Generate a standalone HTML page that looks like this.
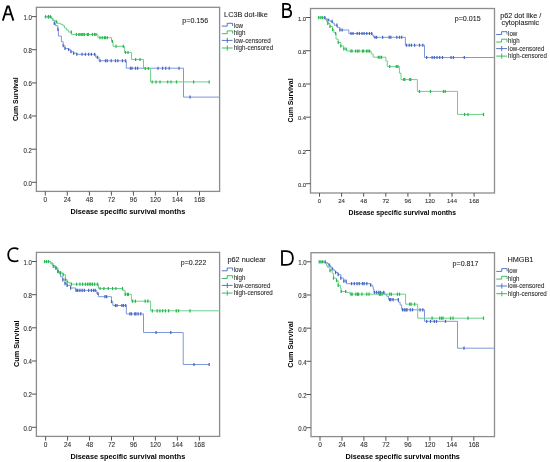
<!DOCTYPE html>
<html><head><meta charset="utf-8"><style>
html,body{margin:0;padding:0;background:#fff;}
body{width:550px;height:462px;overflow:hidden;}
svg{display:block;filter:blur(0.3px);}
text{font-family:"Liberation Sans",sans-serif;}
.tk{font-size:6.8px;fill:#333;stroke:#333;stroke-width:0.1px;}
.at{font-size:7.25px;font-weight:bold;fill:#000;}
.pv{font-size:7px;fill:#1a1a1a;stroke:#1a1a1a;stroke-width:0.08px;}
.lt{font-size:7.3px;fill:#1a1a1a;stroke:#1a1a1a;stroke-width:0.08px;}
.lg{font-size:6.4px;fill:#2a2a2a;stroke:#2a2a2a;stroke-width:0.08px;}
.L{font-size:21px;fill:#000;}
</style></head><body>
<svg width="550" height="462" viewBox="0 0 550 462">
<rect width="550" height="462" fill="#fff"/>
<rect x="36.4" y="7.3" width="183.2" height="184.1" fill="none" stroke="#8c8c8c" stroke-width="1.3"/>
<line x1="31.8" y1="182.3" x2="36.4" y2="182.3" stroke="#555" stroke-width="1"/>
<text x="32.0" y="185.6" text-anchor="end" textLength="8.41" lengthAdjust="spacingAndGlyphs" class="tk" style="font-size:6.8px">0.0</text>
<line x1="31.8" y1="149.2" x2="36.4" y2="149.2" stroke="#555" stroke-width="1"/>
<text x="32.0" y="152.5" text-anchor="end" textLength="8.41" lengthAdjust="spacingAndGlyphs" class="tk" style="font-size:6.8px">0.2</text>
<line x1="31.8" y1="116.0" x2="36.4" y2="116.0" stroke="#555" stroke-width="1"/>
<text x="32.0" y="119.3" text-anchor="end" textLength="8.41" lengthAdjust="spacingAndGlyphs" class="tk" style="font-size:6.8px">0.4</text>
<line x1="31.8" y1="82.9" x2="36.4" y2="82.9" stroke="#555" stroke-width="1"/>
<text x="32.0" y="86.2" text-anchor="end" textLength="8.41" lengthAdjust="spacingAndGlyphs" class="tk" style="font-size:6.8px">0.6</text>
<line x1="31.8" y1="49.7" x2="36.4" y2="49.7" stroke="#555" stroke-width="1"/>
<text x="32.0" y="53.0" text-anchor="end" textLength="8.41" lengthAdjust="spacingAndGlyphs" class="tk" style="font-size:6.8px">0.8</text>
<line x1="31.8" y1="16.6" x2="36.4" y2="16.6" stroke="#555" stroke-width="1"/>
<text x="32.0" y="19.9" text-anchor="end" textLength="8.41" lengthAdjust="spacingAndGlyphs" class="tk" style="font-size:6.8px">1.0</text>
<line x1="45.3" y1="191.4" x2="45.3" y2="195.6" stroke="#555" stroke-width="1"/>
<text x="45.3" y="202.0" text-anchor="middle" textLength="3.61" lengthAdjust="spacingAndGlyphs" class="tk" style="font-size:6.8px">0</text>
<line x1="67.3" y1="191.4" x2="67.3" y2="195.6" stroke="#555" stroke-width="1"/>
<text x="67.3" y="202.0" text-anchor="middle" textLength="7.23" lengthAdjust="spacingAndGlyphs" class="tk" style="font-size:6.8px">24</text>
<line x1="89.4" y1="191.4" x2="89.4" y2="195.6" stroke="#555" stroke-width="1"/>
<text x="89.4" y="202.0" text-anchor="middle" textLength="7.23" lengthAdjust="spacingAndGlyphs" class="tk" style="font-size:6.8px">48</text>
<line x1="111.4" y1="191.4" x2="111.4" y2="195.6" stroke="#555" stroke-width="1"/>
<text x="111.4" y="202.0" text-anchor="middle" textLength="7.23" lengthAdjust="spacingAndGlyphs" class="tk" style="font-size:6.8px">72</text>
<line x1="133.4" y1="191.4" x2="133.4" y2="195.6" stroke="#555" stroke-width="1"/>
<text x="133.4" y="202.0" text-anchor="middle" textLength="7.23" lengthAdjust="spacingAndGlyphs" class="tk" style="font-size:6.8px">96</text>
<line x1="155.4" y1="191.4" x2="155.4" y2="195.6" stroke="#555" stroke-width="1"/>
<text x="155.4" y="202.0" text-anchor="middle" textLength="10.84" lengthAdjust="spacingAndGlyphs" class="tk" style="font-size:6.8px">120</text>
<line x1="177.5" y1="191.4" x2="177.5" y2="195.6" stroke="#555" stroke-width="1"/>
<text x="177.5" y="202.0" text-anchor="middle" textLength="10.84" lengthAdjust="spacingAndGlyphs" class="tk" style="font-size:6.8px">144</text>
<line x1="199.5" y1="191.4" x2="199.5" y2="195.6" stroke="#555" stroke-width="1"/>
<text x="199.5" y="202.0" text-anchor="middle" textLength="10.84" lengthAdjust="spacingAndGlyphs" class="tk" style="font-size:6.8px">168</text>
<text x="70.51" y="214.00" textLength="114.69" lengthAdjust="spacingAndGlyphs" class="at" style="font-size:7.25px">Disease specific survival months</text>
<text transform="translate(18.40,120.80) rotate(-90)" x="-0.28" y="0" textLength="43.66" lengthAdjust="spacingAndGlyphs" class="at" style="font-size:7.25px">Cum Survival</text>
<text x="182.24" y="23.10" textLength="26.08" lengthAdjust="spacingAndGlyphs" class="pv" style="font-size:7.0px">p=0.156</text>
<path d="M2.8,20.6L7.4,6.5H8.8L13.4,20.6M4.9,14.3H11.3" fill="none" stroke="#000" stroke-width="1.8"/>
<text x="224.10" y="17.40" textLength="43.72" lengthAdjust="spacingAndGlyphs" class="lt" style="font-size:7.3px">LC3B dot-like</text>
<path d="M221.8,26.1H227.2V23.3H232.6V26.0" fill="none" stroke="#4466c4" stroke-width="0.9"/>
<text x="233.78" y="27.50" textLength="9.31" lengthAdjust="spacingAndGlyphs" class="lg">low</text>
<path d="M221.8,33.7H227.2V30.9H232.6V33.6" fill="none" stroke="#25b84e" stroke-width="0.9"/>
<text x="233.77" y="35.07" textLength="11.73" lengthAdjust="spacingAndGlyphs" class="lg">high</text>
<path d="M221.8,40.4H232.6M227.3,37.8V43.0" fill="none" stroke="#4466c4" stroke-width="0.9"/>
<text x="233.78" y="42.64" textLength="36.91" lengthAdjust="spacingAndGlyphs" class="lg">low-censored</text>
<path d="M221.8,48.0H232.6M227.3,45.4V50.6" fill="none" stroke="#25b84e" stroke-width="0.9"/>
<text x="233.77" y="50.21" textLength="39.33" lengthAdjust="spacingAndGlyphs" class="lg">high-censored</text>
<path d="M44.8,16.8H51.6V18.5H52.8V20.5H54.3V23.5H55.6V25.7H57.9V29.3H58.4V36.1H61.4V41.8H63.2V45.7H65.0V48.6H68.6V49.6H70.7V51.8H73.6V53.2H76.8V54.3H95.7V57.2H99.0V60.8H126.3V68.2H183.5V97.1H219.6" fill="none" stroke="#8098d8" stroke-width="1.0" stroke-linejoin="miter"/>
<path d="M44.8,16.8H51.6V18.4H52.8V20.3H55.2V21.9H57.2V23.3H60.5V24.3H62.9V25.7H64.6V28.0H66.4V30.0H68.6V32.1H71.4V34.4H97.9V37.7H111.5V41.4H113.0V46.3H124.6V52.4H131.6V59.5H143.5V68.5H150.6V81.9H209.2" fill="none" stroke="#6cd08c" stroke-width="1.0" stroke-linejoin="miter"/>
<g stroke="#4466c4" stroke-width="1.25"><line x1="48.5" y1="15.2" x2="48.5" y2="18.4"/><line x1="54.3" y1="21.9" x2="54.3" y2="25.1"/><line x1="57.9" y1="27.8" x2="57.9" y2="30.9"/><line x1="63.2" y1="44.2" x2="63.2" y2="47.2"/><line x1="65.0" y1="47.1" x2="65.0" y2="50.1"/><line x1="68.6" y1="48.1" x2="68.6" y2="51.1"/><line x1="71.0" y1="50.2" x2="71.0" y2="53.3"/><line x1="73.6" y1="51.7" x2="73.6" y2="54.8"/><line x1="76.8" y1="52.8" x2="76.8" y2="55.8"/><line x1="82.1" y1="52.8" x2="82.1" y2="55.8"/><line x1="85.4" y1="52.8" x2="85.4" y2="55.8"/><line x1="88.6" y1="52.8" x2="88.6" y2="55.8"/><line x1="91.4" y1="52.8" x2="91.4" y2="55.8"/><line x1="94.6" y1="52.8" x2="94.6" y2="55.8"/><line x1="97.4" y1="55.7" x2="97.4" y2="58.8"/><line x1="100.1" y1="59.2" x2="100.1" y2="62.3"/><line x1="105.5" y1="59.2" x2="105.5" y2="62.3"/><line x1="107.2" y1="59.2" x2="107.2" y2="62.3"/><line x1="111.2" y1="59.2" x2="111.2" y2="62.3"/><line x1="115.5" y1="59.2" x2="115.5" y2="62.3"/><line x1="117.8" y1="59.2" x2="117.8" y2="62.3"/><line x1="122.5" y1="59.2" x2="122.5" y2="62.3"/><line x1="125.5" y1="59.2" x2="125.5" y2="62.3"/><line x1="130.5" y1="66.7" x2="130.5" y2="69.8"/><line x1="132.0" y1="66.7" x2="132.0" y2="69.8"/><line x1="135.5" y1="66.7" x2="135.5" y2="69.8"/><line x1="137.6" y1="66.7" x2="137.6" y2="69.8"/><line x1="158.0" y1="66.7" x2="158.0" y2="69.8"/><line x1="162.6" y1="66.7" x2="162.6" y2="69.8"/><line x1="165.7" y1="66.7" x2="165.7" y2="69.8"/><line x1="169.2" y1="66.7" x2="169.2" y2="69.8"/><line x1="179.0" y1="66.7" x2="179.0" y2="69.8"/><line x1="190.1" y1="95.5" x2="190.1" y2="98.6"/></g>
<g stroke="#25b84e" stroke-width="1.25"><line x1="45.5" y1="15.2" x2="45.5" y2="18.4"/><line x1="48.5" y1="15.2" x2="48.5" y2="18.4"/><line x1="50.5" y1="15.2" x2="50.5" y2="18.4"/><line x1="56.5" y1="20.3" x2="56.5" y2="23.4"/><line x1="71.3" y1="30.6" x2="71.3" y2="33.6"/><line x1="76.4" y1="32.9" x2="76.4" y2="35.9"/><line x1="78.9" y1="32.9" x2="78.9" y2="35.9"/><line x1="80.0" y1="32.9" x2="80.0" y2="35.9"/><line x1="81.8" y1="32.9" x2="81.8" y2="35.9"/><line x1="82.9" y1="32.9" x2="82.9" y2="35.9"/><line x1="84.4" y1="32.9" x2="84.4" y2="35.9"/><line x1="87.3" y1="32.9" x2="87.3" y2="35.9"/><line x1="88.4" y1="32.9" x2="88.4" y2="35.9"/><line x1="92.4" y1="32.9" x2="92.4" y2="35.9"/><line x1="94.5" y1="32.9" x2="94.5" y2="35.9"/><line x1="96.0" y1="32.9" x2="96.0" y2="35.9"/><line x1="100.0" y1="36.2" x2="100.0" y2="39.2"/><line x1="102.2" y1="36.2" x2="102.2" y2="39.2"/><line x1="104.4" y1="36.2" x2="104.4" y2="39.2"/><line x1="105.5" y1="36.2" x2="105.5" y2="39.2"/><line x1="107.3" y1="36.2" x2="107.3" y2="39.2"/><line x1="112.4" y1="39.9" x2="112.4" y2="42.9"/><line x1="116.0" y1="44.8" x2="116.0" y2="47.8"/><line x1="123.3" y1="44.8" x2="123.3" y2="47.8"/><line x1="125.5" y1="50.9" x2="125.5" y2="53.9"/><line x1="128.0" y1="50.9" x2="128.0" y2="53.9"/><line x1="135.6" y1="58.0" x2="135.6" y2="61.0"/><line x1="140.0" y1="58.0" x2="140.0" y2="61.0"/><line x1="145.2" y1="67.0" x2="145.2" y2="70.0"/><line x1="148.4" y1="67.0" x2="148.4" y2="70.0"/><line x1="152.2" y1="80.4" x2="152.2" y2="83.5"/><line x1="156.1" y1="80.4" x2="156.1" y2="83.5"/><line x1="160.0" y1="80.4" x2="160.0" y2="83.5"/><line x1="167.7" y1="80.4" x2="167.7" y2="83.5"/><line x1="171.0" y1="80.4" x2="171.0" y2="83.5"/><line x1="176.5" y1="80.4" x2="176.5" y2="83.5"/><line x1="193.6" y1="80.4" x2="193.6" y2="83.5"/><line x1="209.2" y1="80.4" x2="209.2" y2="83.5"/></g>
<rect x="310.5" y="8.5" width="184.0" height="184.5" fill="none" stroke="#8c8c8c" stroke-width="1.3"/>
<line x1="305.9" y1="183.7" x2="310.5" y2="183.7" stroke="#555" stroke-width="1"/>
<text x="306.1" y="186.7" text-anchor="end" textLength="8.20" lengthAdjust="spacingAndGlyphs" class="tk" style="font-size:5.9px">0.0</text>
<line x1="305.9" y1="150.5" x2="310.5" y2="150.5" stroke="#555" stroke-width="1"/>
<text x="306.1" y="153.5" text-anchor="end" textLength="8.20" lengthAdjust="spacingAndGlyphs" class="tk" style="font-size:5.9px">0.2</text>
<line x1="305.9" y1="117.2" x2="310.5" y2="117.2" stroke="#555" stroke-width="1"/>
<text x="306.1" y="120.2" text-anchor="end" textLength="8.20" lengthAdjust="spacingAndGlyphs" class="tk" style="font-size:5.9px">0.4</text>
<line x1="305.9" y1="84.0" x2="310.5" y2="84.0" stroke="#555" stroke-width="1"/>
<text x="306.1" y="87.0" text-anchor="end" textLength="8.20" lengthAdjust="spacingAndGlyphs" class="tk" style="font-size:5.9px">0.6</text>
<line x1="305.9" y1="50.7" x2="310.5" y2="50.7" stroke="#555" stroke-width="1"/>
<text x="306.1" y="53.7" text-anchor="end" textLength="8.20" lengthAdjust="spacingAndGlyphs" class="tk" style="font-size:5.9px">0.8</text>
<line x1="305.9" y1="17.5" x2="310.5" y2="17.5" stroke="#555" stroke-width="1"/>
<text x="306.1" y="20.5" text-anchor="end" textLength="8.20" lengthAdjust="spacingAndGlyphs" class="tk" style="font-size:5.9px">1.0</text>
<line x1="319.5" y1="193.0" x2="319.5" y2="196.7" stroke="#555" stroke-width="1"/>
<text x="319.5" y="202.9" text-anchor="middle" textLength="3.34" lengthAdjust="spacingAndGlyphs" class="tk" style="font-size:5.9px">0</text>
<line x1="341.6" y1="193.0" x2="341.6" y2="196.7" stroke="#555" stroke-width="1"/>
<text x="341.6" y="202.9" text-anchor="middle" textLength="6.67" lengthAdjust="spacingAndGlyphs" class="tk" style="font-size:5.9px">24</text>
<line x1="363.7" y1="193.0" x2="363.7" y2="196.7" stroke="#555" stroke-width="1"/>
<text x="363.7" y="202.9" text-anchor="middle" textLength="6.67" lengthAdjust="spacingAndGlyphs" class="tk" style="font-size:5.9px">48</text>
<line x1="385.8" y1="193.0" x2="385.8" y2="196.7" stroke="#555" stroke-width="1"/>
<text x="385.8" y="202.9" text-anchor="middle" textLength="6.67" lengthAdjust="spacingAndGlyphs" class="tk" style="font-size:5.9px">72</text>
<line x1="407.9" y1="193.0" x2="407.9" y2="196.7" stroke="#555" stroke-width="1"/>
<text x="407.9" y="202.9" text-anchor="middle" textLength="6.67" lengthAdjust="spacingAndGlyphs" class="tk" style="font-size:5.9px">96</text>
<line x1="429.9" y1="193.0" x2="429.9" y2="196.7" stroke="#555" stroke-width="1"/>
<text x="429.9" y="202.9" text-anchor="middle" textLength="10.01" lengthAdjust="spacingAndGlyphs" class="tk" style="font-size:5.9px">120</text>
<line x1="452.0" y1="193.0" x2="452.0" y2="196.7" stroke="#555" stroke-width="1"/>
<text x="452.0" y="202.9" text-anchor="middle" textLength="10.01" lengthAdjust="spacingAndGlyphs" class="tk" style="font-size:5.9px">144</text>
<line x1="474.1" y1="193.0" x2="474.1" y2="196.7" stroke="#555" stroke-width="1"/>
<text x="474.1" y="202.9" text-anchor="middle" textLength="10.01" lengthAdjust="spacingAndGlyphs" class="tk" style="font-size:5.9px">168</text>
<text x="348.44" y="214.70" textLength="107.64" lengthAdjust="spacingAndGlyphs" class="at" style="font-size:7.25px">Disease specific survival months</text>
<text transform="translate(292.80,122.20) rotate(-90)" x="-0.28" y="0" textLength="44.07" lengthAdjust="spacingAndGlyphs" class="at" style="font-size:7.25px">Cum Survival</text>
<text x="454.74" y="20.60" textLength="25.96" lengthAdjust="spacingAndGlyphs" class="pv" style="font-size:7.0px">p=0.015</text>
<path d="M283.1,3.8V17H286.6C289.5,17 291.2,15.5 291.2,13.2C291.2,10.9 289.4,9.4 286.7,9.4H283.1M286.7,9.4C288.9,9.4 290.2,8.1 290.2,6.6C290.2,5 288.9,3.8 286.4,3.8H282.2" fill="none" stroke="#000" stroke-width="1.8"/>
<text x="500.13" y="18.40" textLength="41.07" lengthAdjust="spacingAndGlyphs" class="lt" style="font-size:7.3px">p62 dot like /</text>
<text x="501.59" y="24.90" textLength="37.60" lengthAdjust="spacingAndGlyphs" class="lt" style="font-size:7.3px">cytoplasmic</text>
<path d="M496.2,34.5H501.6V31.7H507.0V34.4" fill="none" stroke="#4466c4" stroke-width="0.9"/>
<text x="508.09" y="35.90" textLength="9.17" lengthAdjust="spacingAndGlyphs" class="lg">low</text>
<path d="M496.2,42.0H501.6V39.2H507.0V41.9" fill="none" stroke="#25b84e" stroke-width="0.9"/>
<text x="508.08" y="43.37" textLength="11.55" lengthAdjust="spacingAndGlyphs" class="lg">high</text>
<path d="M496.2,48.6H507.0M501.7,46.0V51.2" fill="none" stroke="#4466c4" stroke-width="0.9"/>
<text x="508.09" y="50.84" textLength="36.33" lengthAdjust="spacingAndGlyphs" class="lg">low-censored</text>
<path d="M496.2,56.1H507.0M501.7,53.5V58.7" fill="none" stroke="#25b84e" stroke-width="0.9"/>
<text x="508.08" y="58.31" textLength="38.72" lengthAdjust="spacingAndGlyphs" class="lg">high-censored</text>
<path d="M318.7,17.6H325.2V18.8H327.0V20.0H330.0V21.4H332.6V23.1H334.3V25.2H337.3V27.5H339.9V30.0H348.8V33.5H372.3V35.3H373.6V37.3H405.4V45.2H424.5V57.5H494.5" fill="none" stroke="#8098d8" stroke-width="1.0" stroke-linejoin="miter"/>
<path d="M318.7,17.6H325.2V19.5H326.5V21.5H327.8V23.5H330.0V26.5H332.6V29.6H333.9V32.6H335.6V33.5H336.0V39.1H338.2V42.5H340.8V46.0H343.8V49.0H346.8V51.1H371.2V54.0H373.2V57.2H385.9V61.0H387.3V66.6H399.4V73.1H401.0V79.6H417.4V91.4H457.5V114.4H483.5" fill="none" stroke="#6cd08c" stroke-width="1.0" stroke-linejoin="miter"/>
<g stroke="#4466c4" stroke-width="1.25"><line x1="324.8" y1="16.1" x2="324.8" y2="19.2"/><line x1="328.2" y1="18.4" x2="328.2" y2="21.6"/><line x1="332.1" y1="19.8" x2="332.1" y2="22.9"/><line x1="336.9" y1="23.6" x2="336.9" y2="26.8"/><line x1="339.9" y1="28.4" x2="339.9" y2="31.6"/><line x1="342.1" y1="28.4" x2="342.1" y2="31.6"/><line x1="351.0" y1="31.9" x2="351.0" y2="35.0"/><line x1="353.0" y1="31.9" x2="353.0" y2="35.0"/><line x1="357.2" y1="31.9" x2="357.2" y2="35.0"/><line x1="359.4" y1="31.9" x2="359.4" y2="35.0"/><line x1="362.0" y1="31.9" x2="362.0" y2="35.0"/><line x1="364.1" y1="31.9" x2="364.1" y2="35.0"/><line x1="366.8" y1="31.9" x2="366.8" y2="35.0"/><line x1="369.5" y1="31.9" x2="369.5" y2="35.0"/><line x1="371.7" y1="31.9" x2="371.7" y2="35.0"/><line x1="375.0" y1="35.8" x2="375.0" y2="38.8"/><line x1="376.6" y1="35.8" x2="376.6" y2="38.8"/><line x1="382.6" y1="35.8" x2="382.6" y2="38.8"/><line x1="389.2" y1="35.8" x2="389.2" y2="38.8"/><line x1="390.8" y1="35.8" x2="390.8" y2="38.8"/><line x1="396.8" y1="35.8" x2="396.8" y2="38.8"/><line x1="399.5" y1="35.8" x2="399.5" y2="38.8"/><line x1="401.7" y1="35.8" x2="401.7" y2="38.8"/><line x1="406.5" y1="43.7" x2="406.5" y2="46.8"/><line x1="409.2" y1="43.7" x2="409.2" y2="46.8"/><line x1="411.4" y1="43.7" x2="411.4" y2="46.8"/><line x1="414.6" y1="43.7" x2="414.6" y2="46.8"/><line x1="419.5" y1="43.7" x2="419.5" y2="46.8"/><line x1="422.8" y1="43.7" x2="422.8" y2="46.8"/><line x1="426.6" y1="56.0" x2="426.6" y2="59.0"/><line x1="432.1" y1="56.0" x2="432.1" y2="59.0"/><line x1="434.3" y1="56.0" x2="434.3" y2="59.0"/><line x1="437.0" y1="56.0" x2="437.0" y2="59.0"/><line x1="439.7" y1="56.0" x2="439.7" y2="59.0"/><line x1="442.5" y1="56.0" x2="442.5" y2="59.0"/><line x1="451.0" y1="56.0" x2="451.0" y2="59.0"/><line x1="453.4" y1="56.0" x2="453.4" y2="59.0"/><line x1="464.3" y1="56.0" x2="464.3" y2="59.0"/></g>
<g stroke="#25b84e" stroke-width="1.25"><line x1="318.7" y1="16.1" x2="318.7" y2="19.2"/><line x1="320.9" y1="16.1" x2="320.9" y2="19.2"/><line x1="322.6" y1="16.1" x2="322.6" y2="19.2"/><line x1="327.8" y1="21.9" x2="327.8" y2="25.1"/><line x1="330.0" y1="24.9" x2="330.0" y2="28.1"/><line x1="332.6" y1="28.1" x2="332.6" y2="31.2"/><line x1="335.6" y1="31.9" x2="335.6" y2="35.0"/><line x1="338.2" y1="41.0" x2="338.2" y2="44.0"/><line x1="340.8" y1="44.5" x2="340.8" y2="47.5"/><line x1="343.8" y1="47.5" x2="343.8" y2="50.5"/><line x1="346.2" y1="47.5" x2="346.2" y2="50.5"/><line x1="350.9" y1="49.6" x2="350.9" y2="52.6"/><line x1="352.0" y1="49.6" x2="352.0" y2="52.6"/><line x1="355.6" y1="49.6" x2="355.6" y2="52.6"/><line x1="357.5" y1="49.6" x2="357.5" y2="52.6"/><line x1="359.0" y1="49.6" x2="359.0" y2="52.6"/><line x1="362.5" y1="49.6" x2="362.5" y2="52.6"/><line x1="363.6" y1="49.6" x2="363.6" y2="52.6"/><line x1="366.5" y1="49.6" x2="366.5" y2="52.6"/><line x1="368.0" y1="49.6" x2="368.0" y2="52.6"/><line x1="369.5" y1="49.6" x2="369.5" y2="52.6"/><line x1="378.3" y1="55.7" x2="378.3" y2="58.8"/><line x1="379.9" y1="55.7" x2="379.9" y2="58.8"/><line x1="381.5" y1="55.7" x2="381.5" y2="58.8"/><line x1="389.7" y1="65.0" x2="389.7" y2="68.1"/><line x1="396.3" y1="65.0" x2="396.3" y2="68.1"/><line x1="397.9" y1="65.0" x2="397.9" y2="68.1"/><line x1="403.7" y1="78.0" x2="403.7" y2="81.1"/><line x1="404.8" y1="78.0" x2="404.8" y2="81.1"/><line x1="409.7" y1="78.0" x2="409.7" y2="81.1"/><line x1="410.8" y1="78.0" x2="410.8" y2="81.1"/><line x1="419.5" y1="89.9" x2="419.5" y2="93.0"/><line x1="430.5" y1="89.9" x2="430.5" y2="93.0"/><line x1="443.5" y1="89.9" x2="443.5" y2="93.0"/><line x1="445.2" y1="89.9" x2="445.2" y2="93.0"/><line x1="464.6" y1="112.9" x2="464.6" y2="116.0"/><line x1="468.0" y1="112.9" x2="468.0" y2="116.0"/><line x1="483.5" y1="112.9" x2="483.5" y2="116.0"/></g>
<rect x="36.4" y="252.4" width="183.2" height="184.0" fill="none" stroke="#8c8c8c" stroke-width="1.3"/>
<line x1="31.8" y1="427.3" x2="36.4" y2="427.3" stroke="#555" stroke-width="1"/>
<text x="32.0" y="430.6" text-anchor="end" textLength="8.41" lengthAdjust="spacingAndGlyphs" class="tk" style="font-size:6.8px">0.0</text>
<line x1="31.8" y1="394.1" x2="36.4" y2="394.1" stroke="#555" stroke-width="1"/>
<text x="32.0" y="397.4" text-anchor="end" textLength="8.41" lengthAdjust="spacingAndGlyphs" class="tk" style="font-size:6.8px">0.2</text>
<line x1="31.8" y1="361.0" x2="36.4" y2="361.0" stroke="#555" stroke-width="1"/>
<text x="32.0" y="364.3" text-anchor="end" textLength="8.41" lengthAdjust="spacingAndGlyphs" class="tk" style="font-size:6.8px">0.4</text>
<line x1="31.8" y1="327.8" x2="36.4" y2="327.8" stroke="#555" stroke-width="1"/>
<text x="32.0" y="331.1" text-anchor="end" textLength="8.41" lengthAdjust="spacingAndGlyphs" class="tk" style="font-size:6.8px">0.6</text>
<line x1="31.8" y1="294.7" x2="36.4" y2="294.7" stroke="#555" stroke-width="1"/>
<text x="32.0" y="298.0" text-anchor="end" textLength="8.41" lengthAdjust="spacingAndGlyphs" class="tk" style="font-size:6.8px">0.8</text>
<line x1="31.8" y1="261.5" x2="36.4" y2="261.5" stroke="#555" stroke-width="1"/>
<text x="32.0" y="264.8" text-anchor="end" textLength="8.41" lengthAdjust="spacingAndGlyphs" class="tk" style="font-size:6.8px">1.0</text>
<line x1="45.6" y1="436.4" x2="45.6" y2="440.6" stroke="#555" stroke-width="1"/>
<text x="45.6" y="447.0" text-anchor="middle" textLength="3.61" lengthAdjust="spacingAndGlyphs" class="tk" style="font-size:6.8px">0</text>
<line x1="67.6" y1="436.4" x2="67.6" y2="440.6" stroke="#555" stroke-width="1"/>
<text x="67.6" y="447.0" text-anchor="middle" textLength="7.23" lengthAdjust="spacingAndGlyphs" class="tk" style="font-size:6.8px">24</text>
<line x1="89.5" y1="436.4" x2="89.5" y2="440.6" stroke="#555" stroke-width="1"/>
<text x="89.5" y="447.0" text-anchor="middle" textLength="7.23" lengthAdjust="spacingAndGlyphs" class="tk" style="font-size:6.8px">48</text>
<line x1="111.5" y1="436.4" x2="111.5" y2="440.6" stroke="#555" stroke-width="1"/>
<text x="111.5" y="447.0" text-anchor="middle" textLength="7.23" lengthAdjust="spacingAndGlyphs" class="tk" style="font-size:6.8px">72</text>
<line x1="133.5" y1="436.4" x2="133.5" y2="440.6" stroke="#555" stroke-width="1"/>
<text x="133.5" y="447.0" text-anchor="middle" textLength="7.23" lengthAdjust="spacingAndGlyphs" class="tk" style="font-size:6.8px">96</text>
<line x1="155.4" y1="436.4" x2="155.4" y2="440.6" stroke="#555" stroke-width="1"/>
<text x="155.4" y="447.0" text-anchor="middle" textLength="10.84" lengthAdjust="spacingAndGlyphs" class="tk" style="font-size:6.8px">120</text>
<line x1="177.4" y1="436.4" x2="177.4" y2="440.6" stroke="#555" stroke-width="1"/>
<text x="177.4" y="447.0" text-anchor="middle" textLength="10.84" lengthAdjust="spacingAndGlyphs" class="tk" style="font-size:6.8px">144</text>
<line x1="199.4" y1="436.4" x2="199.4" y2="440.6" stroke="#555" stroke-width="1"/>
<text x="199.4" y="447.0" text-anchor="middle" textLength="10.84" lengthAdjust="spacingAndGlyphs" class="tk" style="font-size:6.8px">168</text>
<text x="70.41" y="458.80" textLength="114.79" lengthAdjust="spacingAndGlyphs" class="at" style="font-size:7.25px">Disease specific survival months</text>
<text transform="translate(18.60,366.80) rotate(-90)" x="-0.30" y="0" textLength="46.72" lengthAdjust="spacingAndGlyphs" class="at" style="font-size:7.25px">Cum Survival</text>
<text x="180.85" y="265.00" textLength="25.50" lengthAdjust="spacingAndGlyphs" class="pv" style="font-size:7.0px">p=0.222</text>
<path d="M18.3,249.2C17.2,248.5 15.9,248.2 14.4,248.2C10.6,248.2 8.2,250.9 8.2,254.8C8.2,258.8 10.6,261.4 14.4,261.4C15.9,261.4 17.2,261.1 18.3,260.4" fill="none" stroke="#000" stroke-width="1.8"/>
<text x="227.43" y="261.80" textLength="38.40" lengthAdjust="spacingAndGlyphs" class="lt" style="font-size:7.3px">p62 nuclear</text>
<path d="M221.8,270.8H227.2V268.0H232.6V270.7" fill="none" stroke="#4466c4" stroke-width="0.9"/>
<text x="233.68" y="272.20" textLength="9.26" lengthAdjust="spacingAndGlyphs" class="lg">low</text>
<path d="M221.8,278.5H227.2V275.7H232.6V278.4" fill="none" stroke="#25b84e" stroke-width="0.9"/>
<text x="233.67" y="279.90" textLength="11.67" lengthAdjust="spacingAndGlyphs" class="lg">high</text>
<path d="M221.8,285.4H232.6M227.3,282.8V288.0" fill="none" stroke="#4466c4" stroke-width="0.9"/>
<text x="233.68" y="287.60" textLength="36.72" lengthAdjust="spacingAndGlyphs" class="lg">low-censored</text>
<path d="M221.8,293.1H232.6M227.3,290.5V295.7" fill="none" stroke="#25b84e" stroke-width="0.9"/>
<text x="233.67" y="295.30" textLength="39.13" lengthAdjust="spacingAndGlyphs" class="lg">high-censored</text>
<path d="M44.6,261.6H50.7V263.0H53.0V265.5H55.0V268.0H57.5V271.5H59.5V274.0H60.6V276.8H62.8V279.8H65.0V283.7H67.1V285.4H70.6V288.0H75.8V290.4H96.8V293.5H98.5V296.7H111.5V301.6H112.8V305.5H126.3V313.9H143.5V332.5H183.2V364.5H209.2" fill="none" stroke="#8098d8" stroke-width="1.0" stroke-linejoin="miter"/>
<path d="M44.6,261.6H50.7V263.5H52.0V265.0H53.3V266.4H55.9V268.1H58.0V271.6H60.6V272.9H63.2V274.6H65.4V279.4H67.1V282.0H69.0V283.0H71.4V284.2H98.5V288.5H123.0V290.7H125.2V294.3H131.4V301.2H150.6V310.8H219.6" fill="none" stroke="#6cd08c" stroke-width="1.0" stroke-linejoin="miter"/>
<g stroke="#4466c4" stroke-width="1.25"><line x1="56.0" y1="266.4" x2="56.0" y2="269.6"/><line x1="58.0" y1="269.9" x2="58.0" y2="273.1"/><line x1="62.8" y1="278.2" x2="62.8" y2="281.4"/><line x1="65.0" y1="282.1" x2="65.0" y2="285.2"/><line x1="67.1" y1="283.8" x2="67.1" y2="286.9"/><line x1="70.6" y1="286.4" x2="70.6" y2="289.6"/><line x1="76.1" y1="288.8" x2="76.1" y2="291.9"/><line x1="77.7" y1="288.8" x2="77.7" y2="291.9"/><line x1="79.9" y1="288.8" x2="79.9" y2="291.9"/><line x1="82.1" y1="288.8" x2="82.1" y2="291.9"/><line x1="84.3" y1="288.8" x2="84.3" y2="291.9"/><line x1="88.6" y1="288.8" x2="88.6" y2="291.9"/><line x1="91.4" y1="288.8" x2="91.4" y2="291.9"/><line x1="93.5" y1="288.8" x2="93.5" y2="291.9"/><line x1="95.2" y1="288.8" x2="95.2" y2="291.9"/><line x1="97.9" y1="291.9" x2="97.9" y2="295.1"/><line x1="105.0" y1="295.1" x2="105.0" y2="298.2"/><line x1="106.6" y1="295.1" x2="106.6" y2="298.2"/><line x1="111.5" y1="300.1" x2="111.5" y2="303.2"/><line x1="115.4" y1="303.9" x2="115.4" y2="307.1"/><line x1="117.0" y1="303.9" x2="117.0" y2="307.1"/><line x1="121.9" y1="303.9" x2="121.9" y2="307.1"/><line x1="123.5" y1="303.9" x2="123.5" y2="307.1"/><line x1="125.7" y1="303.9" x2="125.7" y2="307.1"/><line x1="129.9" y1="312.3" x2="129.9" y2="315.4"/><line x1="131.5" y1="312.3" x2="131.5" y2="315.4"/><line x1="134.8" y1="312.3" x2="134.8" y2="315.4"/><line x1="135.9" y1="312.3" x2="135.9" y2="315.4"/><line x1="138.1" y1="312.3" x2="138.1" y2="315.4"/><line x1="140.8" y1="312.3" x2="140.8" y2="315.4"/><line x1="156.1" y1="330.9" x2="156.1" y2="334.1"/><line x1="170.8" y1="330.9" x2="170.8" y2="334.1"/><line x1="194.0" y1="362.9" x2="194.0" y2="366.1"/><line x1="209.2" y1="362.9" x2="209.2" y2="366.1"/></g>
<g stroke="#25b84e" stroke-width="1.25"><line x1="44.6" y1="260.1" x2="44.6" y2="263.2"/><line x1="46.5" y1="260.1" x2="46.5" y2="263.2"/><line x1="48.5" y1="260.1" x2="48.5" y2="263.2"/><line x1="53.3" y1="264.8" x2="53.3" y2="267.9"/><line x1="55.9" y1="266.6" x2="55.9" y2="269.7"/><line x1="58.0" y1="270.1" x2="58.0" y2="273.2"/><line x1="60.6" y1="271.3" x2="60.6" y2="274.4"/><line x1="63.2" y1="273.1" x2="63.2" y2="276.2"/><line x1="65.4" y1="277.8" x2="65.4" y2="280.9"/><line x1="67.1" y1="280.4" x2="67.1" y2="283.6"/><line x1="71.4" y1="282.6" x2="71.4" y2="285.8"/><line x1="76.6" y1="282.6" x2="76.6" y2="285.8"/><line x1="79.9" y1="282.6" x2="79.9" y2="285.8"/><line x1="82.6" y1="282.6" x2="82.6" y2="285.8"/><line x1="85.4" y1="282.6" x2="85.4" y2="285.8"/><line x1="87.5" y1="282.6" x2="87.5" y2="285.8"/><line x1="89.2" y1="282.6" x2="89.2" y2="285.8"/><line x1="90.8" y1="282.6" x2="90.8" y2="285.8"/><line x1="92.5" y1="282.6" x2="92.5" y2="285.8"/><line x1="94.6" y1="282.6" x2="94.6" y2="285.8"/><line x1="97.4" y1="282.6" x2="97.4" y2="285.8"/><line x1="100.1" y1="286.9" x2="100.1" y2="290.1"/><line x1="103.9" y1="286.9" x2="103.9" y2="290.1"/><line x1="108.3" y1="286.9" x2="108.3" y2="290.1"/><line x1="112.6" y1="286.9" x2="112.6" y2="290.1"/><line x1="115.9" y1="286.9" x2="115.9" y2="290.1"/><line x1="122.5" y1="286.9" x2="122.5" y2="290.1"/><line x1="125.2" y1="292.8" x2="125.2" y2="295.9"/><line x1="127.4" y1="292.8" x2="127.4" y2="295.9"/><line x1="128.3" y1="292.8" x2="128.3" y2="295.9"/><line x1="132.6" y1="299.6" x2="132.6" y2="302.8"/><line x1="135.4" y1="299.6" x2="135.4" y2="302.8"/><line x1="145.2" y1="299.6" x2="145.2" y2="302.8"/><line x1="147.9" y1="299.6" x2="147.9" y2="302.8"/><line x1="152.3" y1="309.2" x2="152.3" y2="312.4"/><line x1="157.2" y1="309.2" x2="157.2" y2="312.4"/><line x1="159.9" y1="309.2" x2="159.9" y2="312.4"/><line x1="162.6" y1="309.2" x2="162.6" y2="312.4"/><line x1="165.4" y1="309.2" x2="165.4" y2="312.4"/><line x1="168.6" y1="309.2" x2="168.6" y2="312.4"/><line x1="176.3" y1="309.2" x2="176.3" y2="312.4"/><line x1="178.5" y1="309.2" x2="178.5" y2="312.4"/><line x1="190.0" y1="309.2" x2="190.0" y2="312.4"/></g>
<rect x="311.0" y="252.7" width="183.5" height="183.9" fill="none" stroke="#8c8c8c" stroke-width="1.3"/>
<line x1="306.4" y1="427.7" x2="311.0" y2="427.7" stroke="#555" stroke-width="1"/>
<text x="306.6" y="431.0" text-anchor="end" textLength="8.41" lengthAdjust="spacingAndGlyphs" class="tk" style="font-size:6.8px">0.0</text>
<line x1="306.4" y1="394.5" x2="311.0" y2="394.5" stroke="#555" stroke-width="1"/>
<text x="306.6" y="397.8" text-anchor="end" textLength="8.41" lengthAdjust="spacingAndGlyphs" class="tk" style="font-size:6.8px">0.2</text>
<line x1="306.4" y1="361.3" x2="311.0" y2="361.3" stroke="#555" stroke-width="1"/>
<text x="306.6" y="364.6" text-anchor="end" textLength="8.41" lengthAdjust="spacingAndGlyphs" class="tk" style="font-size:6.8px">0.4</text>
<line x1="306.4" y1="328.2" x2="311.0" y2="328.2" stroke="#555" stroke-width="1"/>
<text x="306.6" y="331.5" text-anchor="end" textLength="8.41" lengthAdjust="spacingAndGlyphs" class="tk" style="font-size:6.8px">0.6</text>
<line x1="306.4" y1="295.0" x2="311.0" y2="295.0" stroke="#555" stroke-width="1"/>
<text x="306.6" y="298.3" text-anchor="end" textLength="8.41" lengthAdjust="spacingAndGlyphs" class="tk" style="font-size:6.8px">0.8</text>
<line x1="306.4" y1="261.8" x2="311.0" y2="261.8" stroke="#555" stroke-width="1"/>
<text x="306.6" y="265.1" text-anchor="end" textLength="8.41" lengthAdjust="spacingAndGlyphs" class="tk" style="font-size:6.8px">1.0</text>
<line x1="320.0" y1="436.6" x2="320.0" y2="440.8" stroke="#555" stroke-width="1"/>
<text x="320.0" y="447.4" text-anchor="middle" textLength="3.61" lengthAdjust="spacingAndGlyphs" class="tk" style="font-size:6.8px">0</text>
<line x1="342.0" y1="436.6" x2="342.0" y2="440.8" stroke="#555" stroke-width="1"/>
<text x="342.0" y="447.4" text-anchor="middle" textLength="7.23" lengthAdjust="spacingAndGlyphs" class="tk" style="font-size:6.8px">24</text>
<line x1="363.9" y1="436.6" x2="363.9" y2="440.8" stroke="#555" stroke-width="1"/>
<text x="363.9" y="447.4" text-anchor="middle" textLength="7.23" lengthAdjust="spacingAndGlyphs" class="tk" style="font-size:6.8px">48</text>
<line x1="385.9" y1="436.6" x2="385.9" y2="440.8" stroke="#555" stroke-width="1"/>
<text x="385.9" y="447.4" text-anchor="middle" textLength="7.23" lengthAdjust="spacingAndGlyphs" class="tk" style="font-size:6.8px">72</text>
<line x1="407.9" y1="436.6" x2="407.9" y2="440.8" stroke="#555" stroke-width="1"/>
<text x="407.9" y="447.4" text-anchor="middle" textLength="7.23" lengthAdjust="spacingAndGlyphs" class="tk" style="font-size:6.8px">96</text>
<line x1="429.9" y1="436.6" x2="429.9" y2="440.8" stroke="#555" stroke-width="1"/>
<text x="429.9" y="447.4" text-anchor="middle" textLength="10.84" lengthAdjust="spacingAndGlyphs" class="tk" style="font-size:6.8px">120</text>
<line x1="451.8" y1="436.6" x2="451.8" y2="440.8" stroke="#555" stroke-width="1"/>
<text x="451.8" y="447.4" text-anchor="middle" textLength="10.84" lengthAdjust="spacingAndGlyphs" class="tk" style="font-size:6.8px">144</text>
<line x1="473.8" y1="436.6" x2="473.8" y2="440.8" stroke="#555" stroke-width="1"/>
<text x="473.8" y="447.4" text-anchor="middle" textLength="10.84" lengthAdjust="spacingAndGlyphs" class="tk" style="font-size:6.8px">168</text>
<text x="345.51" y="459.10" textLength="114.38" lengthAdjust="spacingAndGlyphs" class="at" style="font-size:7.25px">Disease specific survival months</text>
<text transform="translate(293.10,367.50) rotate(-90)" x="-0.30" y="0" textLength="46.62" lengthAdjust="spacingAndGlyphs" class="at" style="font-size:7.25px">Cum Survival</text>
<text x="452.54" y="265.60" textLength="25.92" lengthAdjust="spacingAndGlyphs" class="pv" style="font-size:7.0px">p=0.817</text>
<path d="M282,251.1V264.9H286.3C290.4,264.9 292.9,262.2 292.9,258C292.9,253.8 290.5,251.1 286.5,251.1Z" fill="none" stroke="#000" stroke-width="1.8"/>
<text x="507.40" y="262.00" textLength="26.06" lengthAdjust="spacingAndGlyphs" class="lt" style="font-size:7.3px">HMGB1</text>
<path d="M496.3,271.4H501.7V268.6H507.1V271.3" fill="none" stroke="#4466c4" stroke-width="0.9"/>
<text x="507.89" y="272.80" textLength="9.22" lengthAdjust="spacingAndGlyphs" class="lg">low</text>
<path d="M496.3,279.1H501.7V276.3H507.1V279.0" fill="none" stroke="#25b84e" stroke-width="0.9"/>
<text x="507.87" y="280.50" textLength="11.61" lengthAdjust="spacingAndGlyphs" class="lg">high</text>
<path d="M496.3,286.0H507.1M501.8,283.4V288.6" fill="none" stroke="#4466c4" stroke-width="0.9"/>
<text x="507.89" y="288.20" textLength="36.53" lengthAdjust="spacingAndGlyphs" class="lg">low-censored</text>
<path d="M496.3,293.7H507.1M501.8,291.1V296.3" fill="none" stroke="#25b84e" stroke-width="0.9"/>
<text x="507.87" y="295.90" textLength="38.92" lengthAdjust="spacingAndGlyphs" class="lg">high-censored</text>
<path d="M319.2,261.9H325.7V262.6H327.5V263.8H329.1V265.1H330.6V267.0H332.2V269.0H333.9V270.8H335.6V272.5H338.2V274.6H340.8V278.1H343.8V281.1H346.4V283.7H370.6V285.0H372.3V286.4H373.2V289.0H373.9V292.4H384.8V294.3H386.5V296.2H388.6V299.7H398.5V302.2H400.1V304.9H401.7V309.8H424.5V321.3H457.5V348.2H494.5" fill="none" stroke="#8098d8" stroke-width="1.0" stroke-linejoin="miter"/>
<path d="M319.2,261.9H325.7V263.5H326.5V265.5H327.4V267.3H330.0V270.7H332.2V273.3H333.5V278.1H336.5V280.7H338.2V285.4H340.4V288.5H341.2V291.5H346.5V292.4H349.9V294.2H405.6V304.2H417.7V318.2H483.5" fill="none" stroke="#6cd08c" stroke-width="1.0" stroke-linejoin="miter"/>
<g stroke="#4466c4" stroke-width="1.25"><line x1="325.2" y1="260.3" x2="325.2" y2="263.4"/><line x1="329.1" y1="263.6" x2="329.1" y2="266.7"/><line x1="332.2" y1="267.4" x2="332.2" y2="270.6"/><line x1="335.6" y1="270.9" x2="335.6" y2="274.1"/><line x1="338.2" y1="273.1" x2="338.2" y2="276.2"/><line x1="340.8" y1="276.6" x2="340.8" y2="279.7"/><line x1="343.8" y1="279.6" x2="343.8" y2="282.7"/><line x1="346.1" y1="279.6" x2="346.1" y2="282.7"/><line x1="351.5" y1="282.1" x2="351.5" y2="285.2"/><line x1="354.3" y1="282.1" x2="354.3" y2="285.2"/><line x1="357.0" y1="282.1" x2="357.0" y2="285.2"/><line x1="359.2" y1="282.1" x2="359.2" y2="285.2"/><line x1="362.5" y1="282.1" x2="362.5" y2="285.2"/><line x1="364.1" y1="282.1" x2="364.1" y2="285.2"/><line x1="366.8" y1="282.1" x2="366.8" y2="285.2"/><line x1="370.6" y1="283.4" x2="370.6" y2="286.6"/><line x1="374.5" y1="290.8" x2="374.5" y2="293.9"/><line x1="376.6" y1="290.8" x2="376.6" y2="293.9"/><line x1="378.8" y1="290.8" x2="378.8" y2="293.9"/><line x1="380.5" y1="290.8" x2="380.5" y2="293.9"/><line x1="383.7" y1="290.8" x2="383.7" y2="293.9"/><line x1="389.7" y1="298.1" x2="389.7" y2="301.2"/><line x1="390.8" y1="298.1" x2="390.8" y2="301.2"/><line x1="393.0" y1="298.1" x2="393.0" y2="301.2"/><line x1="398.3" y1="298.1" x2="398.3" y2="301.2"/><line x1="402.6" y1="308.2" x2="402.6" y2="311.4"/><line x1="404.3" y1="308.2" x2="404.3" y2="311.4"/><line x1="405.9" y1="308.2" x2="405.9" y2="311.4"/><line x1="407.0" y1="308.2" x2="407.0" y2="311.4"/><line x1="410.3" y1="308.2" x2="410.3" y2="311.4"/><line x1="412.5" y1="308.2" x2="412.5" y2="311.4"/><line x1="420.1" y1="308.2" x2="420.1" y2="311.4"/><line x1="422.8" y1="308.2" x2="422.8" y2="311.4"/><line x1="426.6" y1="319.8" x2="426.6" y2="322.9"/><line x1="430.5" y1="319.8" x2="430.5" y2="322.9"/><line x1="434.3" y1="319.8" x2="434.3" y2="322.9"/><line x1="436.5" y1="319.8" x2="436.5" y2="322.9"/><line x1="445.5" y1="319.8" x2="445.5" y2="322.9"/><line x1="464.0" y1="346.6" x2="464.0" y2="349.8"/></g>
<g stroke="#25b84e" stroke-width="1.25"><line x1="319.2" y1="260.3" x2="319.2" y2="263.4"/><line x1="320.9" y1="260.3" x2="320.9" y2="263.4"/><line x1="322.6" y1="260.3" x2="322.6" y2="263.4"/><line x1="330.0" y1="269.1" x2="330.0" y2="272.2"/><line x1="333.5" y1="276.6" x2="333.5" y2="279.7"/><line x1="336.5" y1="279.1" x2="336.5" y2="282.2"/><line x1="338.2" y1="283.8" x2="338.2" y2="286.9"/><line x1="341.2" y1="289.9" x2="341.2" y2="293.1"/><line x1="345.6" y1="289.9" x2="345.6" y2="293.1"/><line x1="351.0" y1="292.6" x2="351.0" y2="295.8"/><line x1="352.1" y1="292.6" x2="352.1" y2="295.8"/><line x1="355.9" y1="292.6" x2="355.9" y2="295.8"/><line x1="357.5" y1="292.6" x2="357.5" y2="295.8"/><line x1="358.6" y1="292.6" x2="358.6" y2="295.8"/><line x1="361.9" y1="292.6" x2="361.9" y2="295.8"/><line x1="366.8" y1="292.6" x2="366.8" y2="295.8"/><line x1="369.0" y1="292.6" x2="369.0" y2="295.8"/><line x1="379.4" y1="292.6" x2="379.4" y2="295.8"/><line x1="380.5" y1="292.6" x2="380.5" y2="295.8"/><line x1="382.1" y1="292.6" x2="382.1" y2="295.8"/><line x1="389.7" y1="292.6" x2="389.7" y2="295.8"/><line x1="391.4" y1="292.6" x2="391.4" y2="295.8"/><line x1="397.4" y1="292.6" x2="397.4" y2="295.8"/><line x1="399.5" y1="292.6" x2="399.5" y2="295.8"/><line x1="409.7" y1="302.6" x2="409.7" y2="305.8"/><line x1="411.1" y1="302.6" x2="411.1" y2="305.8"/><line x1="414.6" y1="302.6" x2="414.6" y2="305.8"/><line x1="432.1" y1="316.6" x2="432.1" y2="319.8"/><line x1="439.7" y1="316.6" x2="439.7" y2="319.8"/><line x1="441.5" y1="316.6" x2="441.5" y2="319.8"/><line x1="443.0" y1="316.6" x2="443.0" y2="319.8"/><line x1="450.6" y1="316.6" x2="450.6" y2="319.8"/><line x1="453.0" y1="316.6" x2="453.0" y2="319.8"/><line x1="468.0" y1="316.6" x2="468.0" y2="319.8"/><line x1="483.5" y1="316.6" x2="483.5" y2="319.8"/></g>
</svg>
</body></html>
